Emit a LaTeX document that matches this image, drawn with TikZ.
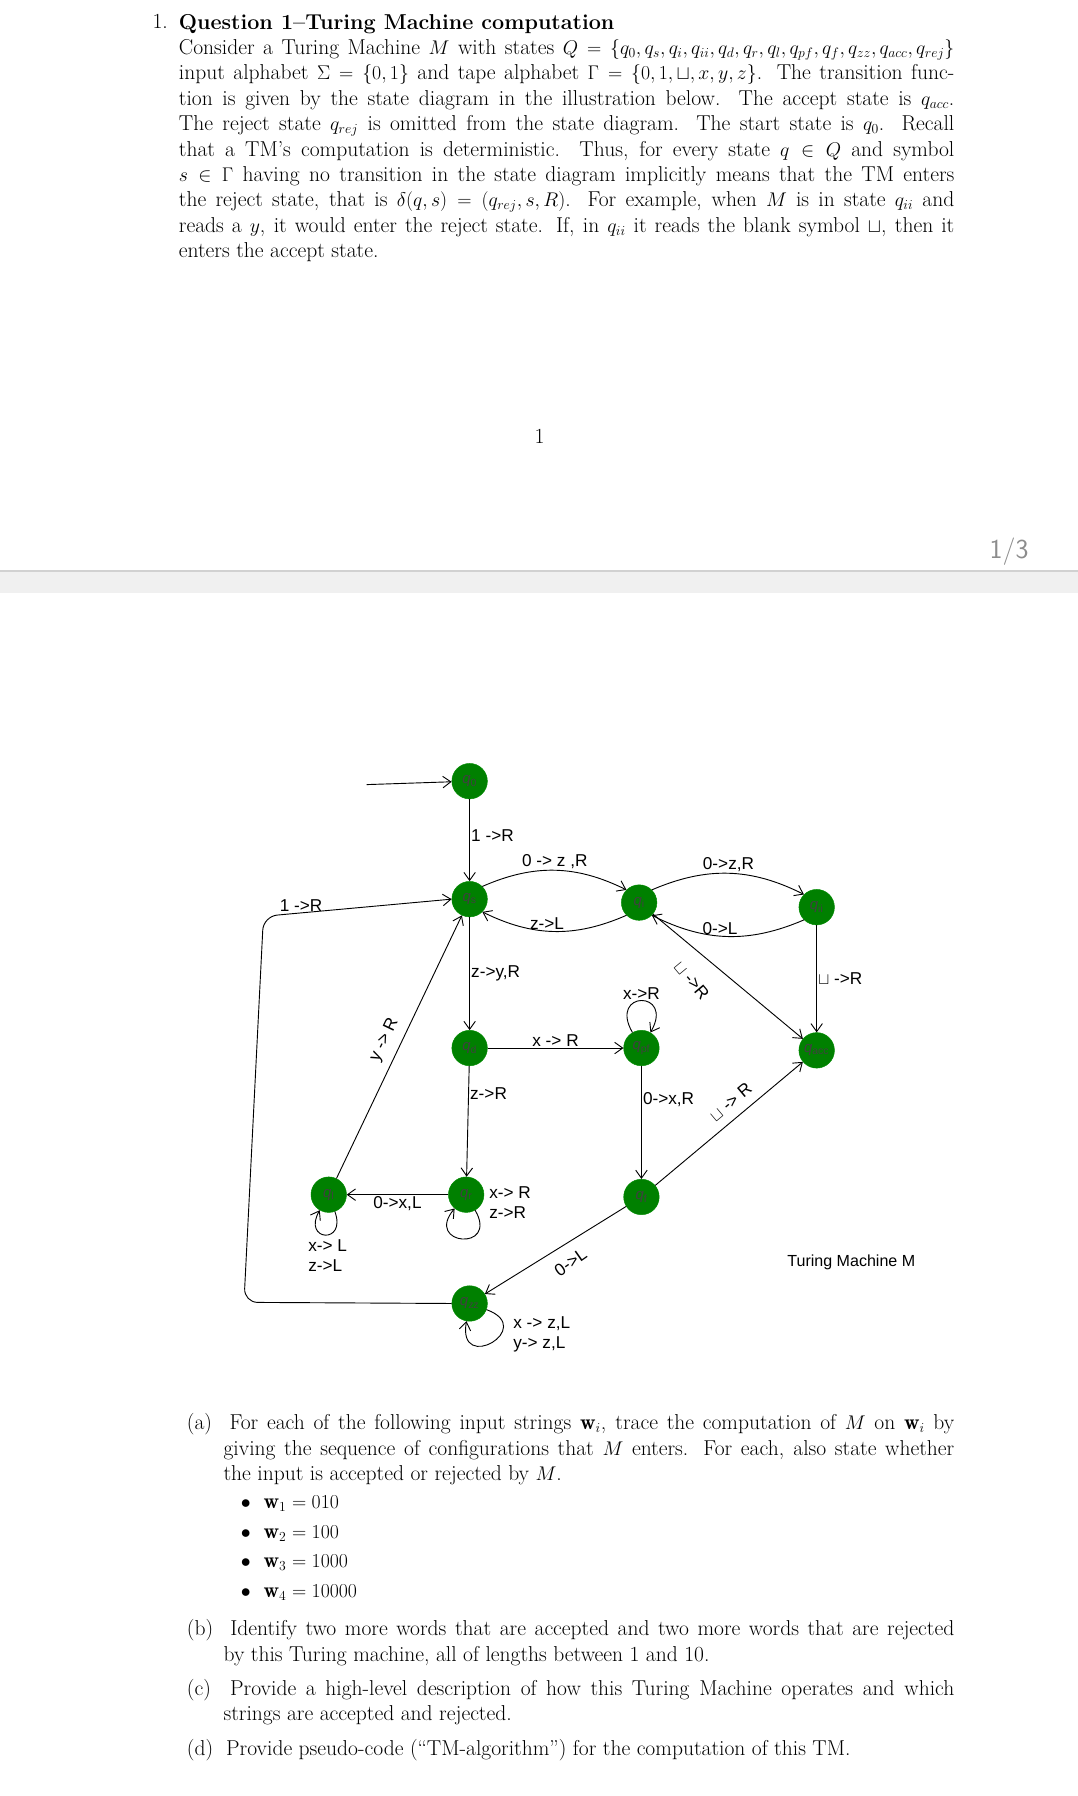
\documentclass[tikz,border=0pt]{standalone}
\usepackage{fontspec}
\newfontfamily\hand{Liberation Sans}
\usetikzlibrary{arrows.meta}
\newcommand{\stl}[2]{\textit{#1}\textsubscript{#2}}
\begin{document}
\begin{tikzpicture}[x=1pt,y=-1pt,
  st/.style={circle,fill=green!50!black,draw=green!55!black,minimum size=31pt,inner sep=0pt,font=\hand\fontsize{13}{13}\selectfont,text=black!75},
  ed/.style={draw,line width=0.8pt,-{Straight Barb[length=7pt,width=10pt]}},
  lb/.style={font=\hand\fontsize{15}{17}\selectfont,inner sep=1pt},
  txt/.style={anchor=north west,inner sep=0pt}]
\useasboundingbox (0,0) rectangle (941,1568);
\fontsize{18.8}{22.2}\selectfont
% top text
\node[txt] (t1) at (133,12) {1.};
\node[txt] (t2) at (156,12) {\begin{minipage}[t]{677pt}\fontsize{18.8}{22.2}\selectfont
\textbf{Question 1--Turing Machine computation}\\
Consider a Turing Machine $M$ with states $Q=\{q_0,q_s,q_i,q_{ii},q_d,q_r,q_l,q_{pf},q_f,q_{zz},q_{acc},q_{rej}\}$\linebreak
input alphabet $\Sigma=\{0,1\}$ and tape alphabet $\Gamma=\{0,1,\sqcup,x,y,z\}$. The transition func-\linebreak
tion is given by the state diagram in the illustration below. The accept state is $q_{acc}$.\linebreak
The reject state $q_{rej}$ is omitted from the state diagram. The start state is $q_0$. Recall\linebreak
that a TM's computation is deterministic. Thus, for every state $q\in Q$ and symbol\linebreak
$s\in\Gamma$ having no transition in the state diagram implicitly means that the TM enters\linebreak
the reject state, that is $\delta(q,s)=(q_{rej},s,R)$. For example, when $M$ is in state $q_{ii}$ and\linebreak
reads a $y$, it would enter the reject state. If, in $q_{ii}$ it reads the blank symbol $\sqcup$, then it\linebreak
enters the accept state.
\end{minipage}};
\node (pg) at (471,381) {1};
\node[font=\sffamily\fontsize{24}{24}\selectfont,text=black!45] (pp) at (881,482) {1/3};
\fill[black!6] (0,499) rectangle (941,518);
\draw[black!18,line width=1.2pt] (0,498.5) -- (941,498.5);
% nodes
\node[st] (q0) at (410,682) {\stl{q}{0}};
\node[st] (qs) at (410,785) {\stl{q}{s}};
\node[st] (qi) at (558,788) {\stl{q}{i}};
\node[st] (qii) at (713,792) {\stl{q}{ii}};
\node[st] (qd) at (410,915) {\stl{q}{d}};
\node[st] (qpf) at (560,915) {\stl{q}{pf}};
\node[st] (qacc) at (713,917) {\stl{q}{acc}};
\node[st] (ql) at (287,1043) {\stl{q}{l}};
\node[st] (qr) at (407,1043) {\stl{q}{r}};
\node[st] (qf) at (560,1045) {\stl{q}{f}};
\node[st] (qzz) at (410,1138) {\stl{q}{zz}};
\coordinate (st0) at (320,685);
% edges
\draw[ed] (st0) -- (q0);
\draw[ed] (q0) -- node[lb,right,pos=0.45]{1 ->R} (qs);
\draw[ed] (qs.north east) to[bend left=25] node[lb,above]{0 -> z ,R} (qi.north west);
\draw[ed] (qi.south west) to[bend left=25] node[lb,above,pos=0.55]{z->L} (qs.south east);
\draw[ed] (qi.north east) to[bend left=25] node[lb,above]{0->z,R} (qii.north west);
\draw[ed] (qii.south west) to[bend left=25] node[lb,above,pos=0.55]{0->L} (qi.south east);
\draw[ed] (qi) -- (qacc);
\node[lb,rotate=-50] (lia) at (604,856) {$\sqcup$ ->R};
\draw[ed] (qii) -- node[lb,right,pos=0.5]{$\sqcup$ ->R} (qacc);
\draw[ed] (qs) -- node[lb,right,pos=0.5]{z->y,R} (qd);
\draw[ed] (qd) -- node[lb,above]{x -> R} (qpf);
\draw[ed] (qpf) to[out=120,in=60,looseness=7] node[lb,above]{x->R} (qpf);
\draw[ed] (qpf) -- node[lb,right,pos=0.3]{0->x,R} (qf);
\draw[ed] (qd) -- node[lb,right,pos=0.25]{z->R} (qr);
\draw[ed] (qr) -- node[lb,below]{0->x,L} (ql);
\draw[ed] (qr) to[out=-60,in=-130,looseness=6] (qr);
\node[lb,align=left,anchor=west] (lr) at (426,1050) {x-> R\\z->R};
\draw[ed] (ql) to[out=-70,in=-120,looseness=6] (ql);
\node[lb,align=left] (ll) at (286,1096) {x-> L\\z->L};
\draw[ed] (ql) -- node[lb,above,sloped,pos=0.5,yshift=6pt]{y -> R} (qs);
\draw[ed] (qf) -- (qzz);
\node[lb,rotate=35] (lfz) at (498,1102) {0->L};
\draw[ed] (qf) -- (qacc);
\node[lb,rotate=40] (lfa) at (638,962) {$\sqcup$ -> R};
\draw[ed] (qzz) to[out=-20,in=-100,looseness=6] (qzz);
\node[lb,align=left,anchor=west] (lz) at (447,1165) {x -> z,L\\y-> z,L};
\draw[ed,rounded corners=12pt] (qzz.west) -- (213,1137) -- (230,800) -- node[lb,above,pos=0.2]{1 ->R} (qs.west);
\node[font=\hand\fontsize{14}{14}\selectfont,anchor=west] (tm) at (681,1102) {Turing Machine M};
% bottom text
\node[txt] (ba) at (163,1234) {\begin{minipage}[t]{670pt}\fontsize{18.8}{22.2}\selectfont
\hangindent=32pt\hangafter=1
(a)\ \ For each of the following input strings $\mathbf{w}_i$, trace the computation of $M$ on $\mathbf{w}_i$ by\linebreak
giving the sequence of configurations that $M$ enters. For each, also state whether\linebreak
the input is accepted or rejected by $M$.
\end{minipage}};
\node[txt] (b1) at (210,1306) {$\bullet$\ \ $\mathbf{w}_1=010$};
\node[txt] (b2) at (210,1332) {$\bullet$\ \ $\mathbf{w}_2=100$};
\node[txt] (b3) at (210,1357) {$\bullet$\ \ $\mathbf{w}_3=1000$};
\node[txt] (b4) at (210,1383) {$\bullet$\ \ $\mathbf{w}_4=10000$};
\node[txt] (bb) at (163,1414) {\begin{minipage}[t]{670pt}\fontsize{18.8}{22.2}\selectfont
\hangindent=32pt\hangafter=1
(b)\ \ Identify two more words that are accepted and two more words that are rejected\linebreak
by this Turing machine, all of lengths between 1 and 10.
\end{minipage}};
\node[txt] (bc) at (163,1466) {\begin{minipage}[t]{670pt}\fontsize{18.8}{22.2}\selectfont
\hangindent=32pt\hangafter=1
(c)\ \ Provide a high-level description of how this Turing Machine operates and which\linebreak
strings are accepted and rejected.
\end{minipage}};
\node[txt] (bd) at (163,1518) {(d)\ \ Provide pseudo-code (``TM-algorithm'') for the computation of this TM.};
\end{tikzpicture}
\end{document}
